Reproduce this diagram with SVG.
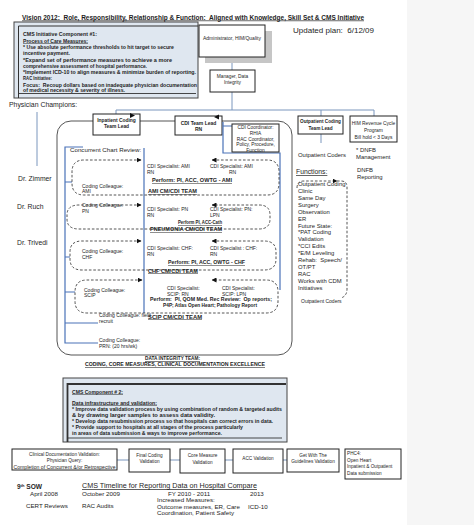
<svg xmlns="http://www.w3.org/2000/svg" width="474" height="525" viewBox="0 0 474 525">
<defs>
<style>
text{font-family:"Liberation Sans",Arial,sans-serif;fill:#1e1e1e}
.b{font-weight:bold}
.u{text-decoration:underline}
.s47{font-size:4.7px}
.s5{font-size:5px}
.s6{font-size:5.9px}
.conn{stroke:#7b96bd;fill:none;stroke-width:1}
.blue{stroke:#4a72b8;fill:none;stroke-width:1.2}
.dash{stroke:#2a2a2a;fill:none;stroke-width:0.8;stroke-dasharray:2.6 1.8}
.box{fill:#fff;stroke:#222;stroke-width:1}
.cms{fill:#dfe7f0;stroke:#444;stroke-width:1}
</style>
<marker id="ah" viewBox="0 0 10 10" refX="9" refY="5" markerWidth="5" markerHeight="5" markerUnits="userSpaceOnUse" orient="auto-start-reverse"><path d="M0,0 L10,5 L0,10 z" fill="#111"/></marker>
</defs>
<rect x="0" y="0" width="474" height="525" fill="#fff"/>
<rect x="407" y="0" width="67" height="525" fill="#f6f6f6"/>

<text id="title" x="22" y="19.5" class="b u" font-size="6.6" textLength="342" lengthAdjust="spacingAndGlyphs">Vision 2012:&#160; Role, Responsibility, Relationship &amp; Function:&#160; Aligned with Knowledge, Skill Set &amp; CMS Initiative</text>
<text id="updated" x="293" y="33" font-size="8" textLength="81" lengthAdjust="spacingAndGlyphs">Updated plan:&#160; 6/12/09</text>

<g id="cms1">
<rect x="14" y="22" width="184" height="76" class="cms"/>
<path d="M18.5,98 V26 H198" stroke="#333" stroke-width="1" fill="none"/>
<line x1="18.5" y1="93.5" x2="196" y2="93.5" stroke="#333" stroke-width="0.9"/>
<g class="b" font-size="4.8">
<text x="23" y="36" textLength="74" lengthAdjust="spacingAndGlyphs">CMS Initiative Component #1:</text>
<text x="23" y="42.5" class="u" textLength="65" lengthAdjust="spacingAndGlyphs">Process of Care Measures:</text>
<text x="23" y="49" textLength="151" lengthAdjust="spacingAndGlyphs">* Use absolute performance thresholds to hit target to secure</text>
<text x="23" y="55" textLength="47" lengthAdjust="spacingAndGlyphs">incentive payment.</text>
<text x="23" y="61.5" textLength="149" lengthAdjust="spacingAndGlyphs">*Expand set of performance measures to achieve a more</text>
<text x="23" y="67.5" textLength="124" lengthAdjust="spacingAndGlyphs">comprehensive assessment of hospital performance.</text>
<text x="23" y="74" textLength="173" lengthAdjust="spacingAndGlyphs">*Implement ICD-10 to align measures &amp; minimize burden of reporting.</text>
<text x="23" y="80" textLength="29" lengthAdjust="spacingAndGlyphs">RAC Initiative:</text>
<text x="23" y="86.5" textLength="174" lengthAdjust="spacingAndGlyphs">Focus:&#160; Recoup dollars based on inadequate physician documentation</text>
<text x="23" y="92" textLength="102" lengthAdjust="spacingAndGlyphs">of medical necessity &amp; severity of illness.</text>
</g>
</g>

<g id="connectors">
<path class="conn" d="M232,57 V70 M232,92 V110 M116,110 H374 M116,110 V114 M321,110 V116 M374,110 V116 M321,134 V143 M37,112 V166"/>
<path class="conn" d="M117,460 H129 M170,460 H180 M225,460 H233 M283,460 H287"/>
</g>

<g id="admin">
<rect x="205" y="31" width="67" height="32" fill="#c6c6c6"/>
<rect x="199" y="25" width="66" height="32" class="box" stroke-width="1.3"/>
<text x="232" y="40" class="s47" text-anchor="middle" textLength="58" lengthAdjust="spacingAndGlyphs">Administrator, HIM/Quality</text>
</g>

<g id="manager">
<rect x="210" y="70" width="45" height="22" class="box" stroke-width="2"/>
<text x="232.5" y="78" font-size="4.8" text-anchor="middle">Manager, Data</text>
<text x="232.5" y="84" font-size="4.8" text-anchor="middle">Integrity</text>
</g>

<text id="physicians" x="9" y="106.5" font-size="6.9">Physician Champions:</text>

<g id="container">
<rect x="57" y="121" width="235" height="234" rx="14" fill="none" stroke="#555" stroke-width="1"/>
</g>

<g id="inpatient-lead">
<rect x="93" y="114" width="47" height="21" class="box"/>
<text x="116.5" y="122" class="b" font-size="4.9" text-anchor="middle">Inpatient Coding</text>
<text x="116.5" y="128" class="b" font-size="4.9" text-anchor="middle">Team Lead</text>
<path d="M130,113 L135,115.5 L130,118 z" fill="#111"/>
</g>

<g id="cdi-lead">
<rect x="175" y="116" width="47" height="19" class="box"/>
<text x="198.5" y="125" class="b" font-size="5" text-anchor="middle">CDI Team Lead</text>
<text x="198.5" y="131" class="b" font-size="5" text-anchor="middle">RN</text>
<path d="M219,114.5 L214,117 L219,119.5 z" fill="#111"/>
</g>

<g id="blue-lines">
<path class="blue" d="M223,126 H232 M223,122 V153 H280 V290"/>
<path class="blue" d="M83,147 H65 V343 H98 M65,182 H72 M65,257 H70 M65,292 H75 M65,323 H98 M144,148 V313"/>
</g>

<g id="cdi-coordinator">
<rect x="232" y="124" width="47" height="28" class="box" stroke-width="1.2"/>
<g font-size="4.8" text-anchor="middle">
<text x="255.5" y="129">CDI Coordinator:</text>
<text x="255.5" y="135">RHIA</text>
<text x="255.5" y="140.5">RAC Coordinator,</text>
<text x="255.5" y="146">Policy, Procedure,</text>
<text x="255.5" y="151.5">Function</text>
</g>
</g>

<text id="ccr" x="70" y="152" font-size="6.2">Concurrent Chart Review:</text>

<g id="doctors" font-size="6.8">
<text x="18" y="181">Dr. Zimmer</text>
<text x="17" y="209">Dr. Ruch</text>
<text x="17" y="245">Dr. Trivedi</text>
</g>

<g id="loops">
<path class="dash" marker-start="url(#ah)" marker-end="url(#ah)" d="M141,160 H84 Q72,160 72,172 V183 Q72,195 84,195 H267 Q279,195 279,183 V172 Q279,160 267,160 H212"/>
<path class="dash" marker-start="url(#ah)" marker-end="url(#ah)" d="M141,205 H79 Q67,205 67,215 V219 Q67,229 79,229 H259 Q270,229 270,219 V215 Q270,205 259,205 H212"/>
<path class="dash" marker-start="url(#ah)" marker-end="url(#ah)" d="M141,241 H82 Q70,241 70,252 V259 Q70,270 82,270 H264 Q276,270 276,259 V252 Q276,241 264,241 H212"/>
<path class="dash" marker-start="url(#ah)" marker-end="url(#ah)" d="M142,280 H87 Q75,280 75,292 V301 Q75,313 87,313 H266 Q278,313 278,301 V292 Q278,280 266,280 H212"/>
</g>

<g id="row-ami" class="s5">
<text x="82" y="187.5">Coding Colleague:</text>
<text x="82" y="193">AMI</text>
<text x="147" y="168">CDI Specialist: AMI</text>
<text x="147" y="173.5">RN</text>
<text x="210" y="168">CDI Specialist: AMI</text>
<text x="229" y="173.5">RN</text>
<text x="152" y="182" class="b u" textLength="80" lengthAdjust="spacingAndGlyphs">Perform: PI, ACC, OWTG - AMI</text>
<text x="148" y="193" class="b u" textLength="49" lengthAdjust="spacingAndGlyphs">AMI CM/CDI TEAM</text>
</g>

<g id="row-pn" class="s5">
<text x="82" y="207">Coding Colleague:</text>
<text x="82" y="213">PN</text>
<text x="147" y="211">CDI Specialist: PN</text>
<text x="147" y="216.5">RN</text>
<text x="210" y="211">CDI Specialist: PN:</text>
<text x="210" y="216.5">LPN</text>
<text x="178" y="224" class="b u" textLength="44" lengthAdjust="spacingAndGlyphs">Perform PI, ACC-Cath</text>
<text x="150" y="231" class="b u" textLength="72" lengthAdjust="spacingAndGlyphs">PNEUMONIA CM/CDI TEAM</text>
</g>

<g id="row-chf" class="s5">
<text x="82" y="252.5">Coding Colleague:</text>
<text x="82" y="258.5">CHF</text>
<text x="147" y="250">CDI Specialist: CHF:</text>
<text x="147" y="255.5">RN</text>
<text x="210" y="250">CDI Specialist : CHF:</text>
<text x="210" y="255.5">RN</text>
<text x="168" y="264" class="b u" textLength="77" lengthAdjust="spacingAndGlyphs">Perform: PI, ACC, OWTG - CHF</text>
<text x="148" y="272.5" class="b u" textLength="50" lengthAdjust="spacingAndGlyphs">CHF CM/CDI TEAM</text>
</g>

<g id="row-scip" class="s5">
<text x="84" y="291.5">Coding Colleague:</text>
<text x="84" y="297">SCIP</text>
<text x="167" y="290">CDI Specialist:</text>
<text x="167" y="295.5">SCIP: RN</text>
<text x="222" y="290">CDI Specialist:</text>
<text x="222" y="295.5">SCIP: LPN</text>
<text x="150" y="301" class="b" textLength="122" lengthAdjust="spacingAndGlyphs">Perform:&#160; PI, QOM Med. Rec Review:&#160; Op reports;</text>
<text x="163" y="306.5" class="b" textLength="94" lengthAdjust="spacingAndGlyphs">P4P; Atlas Open Heart; Pathology Report</text>
<text x="148" y="318.5" class="b u" textLength="54" lengthAdjust="spacingAndGlyphs">SCIP CM/CDI TEAM</text>
</g>

<g id="recruits" class="s5">
<text x="99" y="317">Coding Colleague: field</text>
<text x="99" y="323">recruit</text>
<text x="99" y="341.5">Coding Colleague:</text>
<text x="99" y="347.5">PRN: (20 hrs/wk)</text>
</g>

<g id="data-integrity" class="b u" font-size="5">
<text x="145" y="360" textLength="55" lengthAdjust="spacingAndGlyphs">DATA INTEGRITY TEAM:</text>
<text x="85" y="366" textLength="180" lengthAdjust="spacingAndGlyphs">CODING, CORE MEASURES, CLINICAL DOCUMENTATION EXCELLENCE</text>
</g>

<g id="outpatient-lead">
<rect x="298" y="116" width="45" height="18" class="box"/>
<text x="320.5" y="123" class="b" font-size="4.7" text-anchor="middle">Outpatient Coding</text>
<text x="320.5" y="129.5" class="b" font-size="4.7" text-anchor="middle">Team Lead</text>
</g>

<g id="him-revenue">
<rect x="350" y="116" width="47" height="26" class="box"/>
<text x="373.5" y="125" font-size="4.9" text-anchor="middle">HIM Revenue Cycle</text>
<text x="373.5" y="131.5" font-size="4.9" text-anchor="middle">Program</text>
<text x="373.5" y="138.5" font-size="4.9" text-anchor="middle">Bill hold &lt; 3 Days</text>
</g>

<g id="outpatient-side" class="s6">
<text x="298" y="157" textLength="48" lengthAdjust="spacingAndGlyphs">Outpatient Coders</text>
<text x="356" y="152">* DNFB</text>
<text x="356" y="159">Management</text>
<text x="357" y="172">DNFB</text>
<text x="357" y="179">Reporting</text>
<text x="296" y="174" class="u" font-size="6.8">Functions:</text>
</g>

<g id="outpatient-functions">
<path class="dash" marker-end="url(#ah)" d="M297,188 Q297,181 304,181 H337"/>
<path class="dash" d="M337,181 H341 Q347,181 347,187 V289 Q347,296 341,298"/>
<g class="s6">
<text x="298" y="186">Outpatient Coding</text>
<text x="298" y="193">Clinic</text>
<text x="298" y="199.9">Same Day</text>
<text x="298" y="206.8">Surgery</text>
<text x="298" y="213.7">Observation</text>
<text x="298" y="220.6">ER</text>
<text x="298" y="227.5">Future State:</text>
<text x="298" y="234.4">*PAT Coding</text>
<text x="298" y="241.3">Validation</text>
<text x="298" y="248.2">*CCI Edits</text>
<text x="298" y="255.1">*E/M Leveling</text>
<text x="298" y="262">Rehab:&#160; Speech/</text>
<text x="298" y="268.9">OT/PT</text>
<text x="298" y="275.8">RAC</text>
<text x="298" y="282.7">Works with CDM</text>
<text x="298" y="289.6">Initiatives</text>
</g>
<text x="301" y="302.5" font-size="5">Outpatient Coders</text>
</g>

<g id="cms2">
<rect x="63" y="378" width="224" height="64" class="cms"/>
<path d="M67.5,442 V384 H286" stroke="#333" stroke-width="1.8" fill="none"/>
<line x1="68" y1="438" x2="282" y2="438" stroke="#333" stroke-width="0.9"/>
<g class="b" font-size="4.9">
<text x="72" y="393.5" class="u" textLength="51" lengthAdjust="spacingAndGlyphs">CMS Component # 2:</text>
<text x="72" y="404.5" class="u" textLength="85" lengthAdjust="spacingAndGlyphs">Data infrastructure and validation:</text>
<text x="72" y="410.5" textLength="210" lengthAdjust="spacingAndGlyphs">* Improve data validation process by using combination of random &amp; targeted audits</text>
<text x="72" y="416.5" textLength="143" lengthAdjust="spacingAndGlyphs">&amp; by drawing larger samples to assess data validity.</text>
<text x="72" y="422.5" textLength="201" lengthAdjust="spacingAndGlyphs">* Develop data resubmission process so that hospitals can correct errors in data.</text>
<text x="72" y="428.5" textLength="171" lengthAdjust="spacingAndGlyphs">* Provide support to hospitals at all stages of the process particularly</text>
<text x="72" y="434.5" textLength="150" lengthAdjust="spacingAndGlyphs">in areas of data submission &amp; ways to improve performance.</text>
</g>
</g>

<g id="cdv-box">
<rect x="12" y="449" width="105" height="21" class="box"/>
<text x="64.5" y="455.5" class="s47" text-anchor="middle">Clinical Documentation Validation:</text>
<text x="64.5" y="462" class="s47" text-anchor="middle">Physician Query:</text>
<text x="64.5" y="468.5" class="s47" text-anchor="middle" textLength="102" lengthAdjust="spacingAndGlyphs">Completion of Concurrent &amp;/or Retrospective</text>
</g>
<g id="final-coding">
<rect x="129" y="449" width="41" height="23" class="box"/>
<text x="149.5" y="456.5" class="s47" text-anchor="middle">Final Coding</text>
<text x="149.5" y="463" class="s47" text-anchor="middle">Validation</text>
</g>
<g id="core-measure">
<rect x="180" y="449" width="45" height="24" class="box"/>
<text x="202.5" y="456.5" class="s47" text-anchor="middle">Core Measure</text>
<text x="202.5" y="463.5" class="s47" text-anchor="middle">Validation</text>
</g>
<g id="acc">
<rect x="233" y="449" width="50" height="24" class="box"/>
<text x="258" y="459.5" class="s47" text-anchor="middle">ACC Validation</text>
</g>
<g id="gwtg">
<rect x="287" y="449" width="52" height="23" class="box"/>
<text x="313" y="456.5" class="s47" text-anchor="middle">Get With The</text>
<text x="313" y="463" class="s47" text-anchor="middle">Guidelines Validation</text>
</g>
<g id="phc4">
<rect x="345" y="449" width="56" height="30" class="box"/>
<text x="347" y="455" class="s47">PHC4:</text>
<text x="347" y="461.5" class="s47">Open Heart</text>
<text x="347" y="468" class="s47">Inpatient &amp; Outpatient</text>
<text x="347" y="474.5" class="s47">Data submission</text>
</g>

<g id="timeline" font-size="6.2">
<text x="17" y="489" class="b" font-size="6.6">9<tspan font-size="4" dy="-2.5">th</tspan><tspan dy="2.5"> SOW</tspan></text>
<text x="30" y="496">April 2008</text>
<text x="26" y="507.5">CERT Reviews</text>
<text x="82" y="488" class="u" font-size="7" textLength="175" lengthAdjust="spacingAndGlyphs">CMS Timeline for Reporting Data on Hospital Compare</text>
<text x="82" y="496" textLength="38" lengthAdjust="spacingAndGlyphs">October 2009</text>
<text x="82" y="507.5">RAC Audits</text>
<text x="168" y="495.5">FY 2010 - 2011</text>
<text x="157" y="501.5">Increased Measures:</text>
<text x="157" y="509">Outcome measures, ER, Care</text>
<text x="157" y="515">Coordination, Patient Safety</text>
<text x="250" y="495.5">2013</text>
<text x="248" y="509">ICD-10</text>
</g>
</svg>
